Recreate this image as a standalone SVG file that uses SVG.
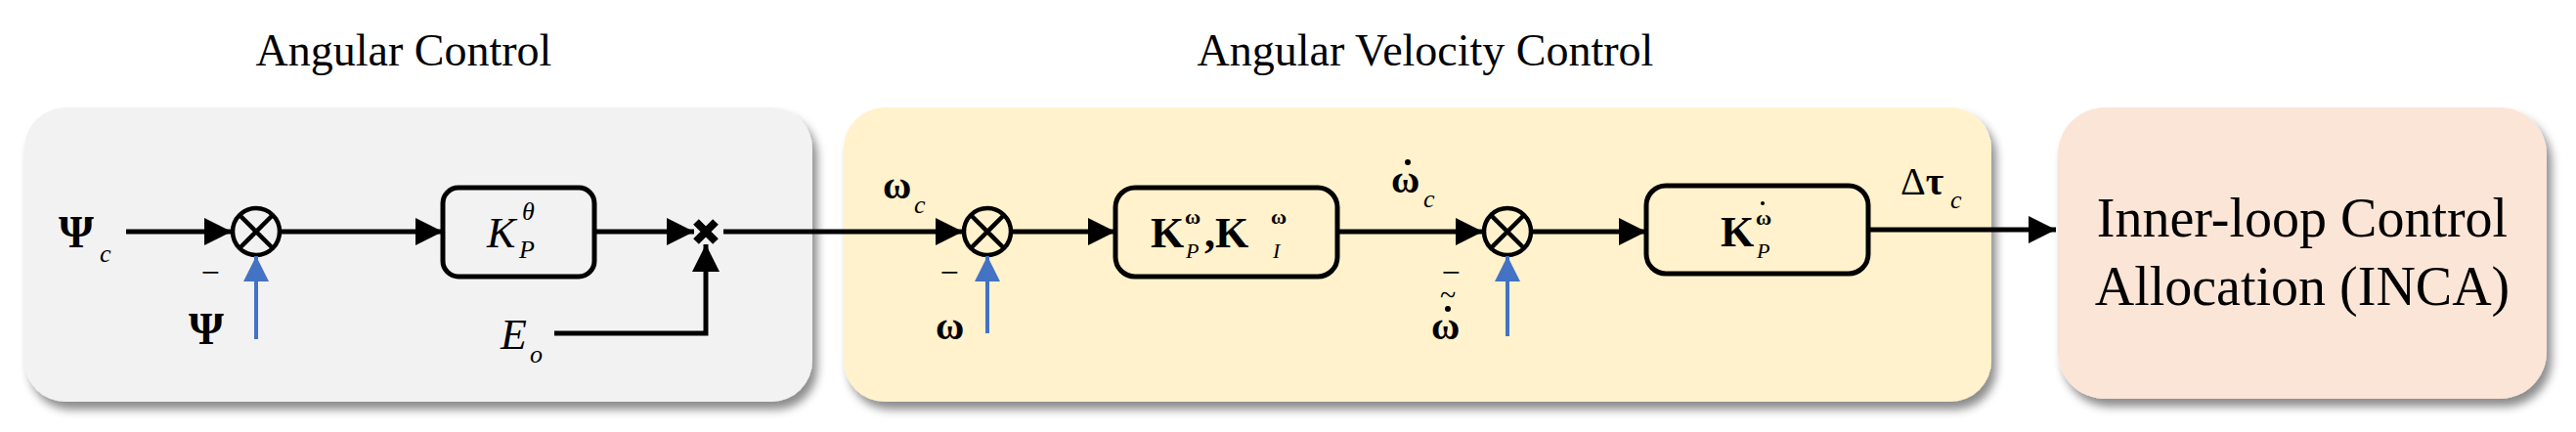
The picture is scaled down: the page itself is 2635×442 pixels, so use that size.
<svg xmlns="http://www.w3.org/2000/svg" width="2635" height="442" viewBox="0 0 2635 442" font-family="Liberation Serif, Times New Roman, serif">
<style>
text{font-family:Liberation Serif, Times New Roman, serif;fill:#000}
.title{font-size:46px;text-anchor:middle}
.b{font-weight:bold}
.i{font-style:italic}
.ln{stroke:#000;stroke-width:5;fill:none;marker-end:url(#ah)}
.bl{stroke:#4472c4;stroke-width:4;fill:none;marker-end:url(#ab)}
.box{fill:none;stroke:#000;stroke-width:5}
.sum{fill:none;stroke:#000;stroke-width:4.5}
</style>
<defs>
<filter id="sh" x="-5%" y="-5%" width="112%" height="120%"><feDropShadow dx="5" dy="8" stdDeviation="5" flood-color="#000" flood-opacity="0.45"/></filter>
<marker id="ah" markerWidth="28" markerHeight="28" refX="28" refY="14" orient="auto" markerUnits="userSpaceOnUse" viewBox="0 0 28 28"><path d="M0,0L28,14L0,28z" fill="#000"/></marker>
<marker id="ab" markerWidth="26" markerHeight="26" refX="26" refY="13" orient="auto" markerUnits="userSpaceOnUse" viewBox="0 0 26 26"><path d="M0,0L26,13L0,26z" fill="#4472c4"/></marker>
</defs>
<g id="panel-angular">
<rect x="25" y="110" width="806" height="301" rx="42" fill="#f2f2f2" filter="url(#sh)"/>
<text class="title" x="413" y="67">Angular Control</text>
</g>
<g id="panel-velocity">
<rect x="863" y="110" width="1174" height="301" rx="42" fill="#fff2cc" filter="url(#sh)"/>
<text class="title" x="1458" y="67">Angular Velocity Control</text>
</g>
<g id="panel-inca">
<rect x="2105" y="110" width="500" height="298" rx="48" fill="#fbe5d6" filter="url(#sh)"/>
<text x="2355" y="242" font-size="56" text-anchor="middle">Inner-loop Control</text>
<text x="2355" y="312" font-size="56" text-anchor="middle">Allocation (INCA)</text>
</g>
<g id="sum1">
<circle cx="262" cy="237" r="24" class="sum"/>
<path d="M245,220L279,254M279,220L245,254" class="sum"/>
</g>
<g id="kp-theta">
<rect x="453" y="192" width="155" height="91" rx="16" class="box"/>
<text x="498" y="253" font-size="44" class="i">K</text>
<text x="534" y="225" font-size="26" class="i">θ</text>
<text x="531" y="264" font-size="26" class="i">P</text>
</g>
<g id="mult">
<path d="M712,227L732,247M732,227L712,247" stroke="#000" stroke-width="8"/>
</g>
<g id="sum2">
<circle cx="1010" cy="237" r="24" class="sum"/>
<path d="M993,220L1027,254M1027,220L993,254" class="sum"/>
</g>
<g id="kp-ki">
<rect x="1141" y="192" width="227" height="91" rx="20" class="box"/>
<text x="1177" y="253" font-size="44" class="b">K</text>
<text x="1212" y="229" font-size="22" class="b">ω</text>
<text x="1213" y="264" font-size="22" class="i">P</text>
<text x="1232" y="253" font-size="44" class="b">,K</text>
<text x="1300" y="229" font-size="22" class="b">ω</text>
<text x="1302" y="264" font-size="22" class="i">I</text>
</g>
<g id="sum3">
<circle cx="1542" cy="237" r="24" class="sum"/>
<path d="M1525,220L1559,254M1559,220L1525,254" class="sum"/>
</g>
<g id="kp-omegadot">
<rect x="1684" y="190" width="227" height="90" rx="20" class="box"/>
<text x="1760" y="252" font-size="44" class="b">K</text>
<text x="1796" y="230" font-size="22" class="b">ω</text>
<circle cx="1803" cy="208" r="2" fill="#000"/>
<text x="1797" y="264" font-size="22" class="i">P</text>
</g>
<g id="labels">
<text x="60" y="253" font-size="46" class="b">Ψ</text>
<text x="102" y="268" font-size="26" class="i">c</text>
<text x="215" y="290" font-size="34" text-anchor="middle">−</text>
<text x="193" y="352" font-size="46" class="b">Ψ</text>
<text x="512" y="357" font-size="44" class="i">E</text>
<text x="542" y="371" font-size="26" class="i">o</text>
<text x="903" y="203" font-size="40" class="b">ω</text>
<text x="935" y="218" font-size="26" class="i">c</text>
<text x="971" y="290" font-size="34" text-anchor="middle">−</text>
<text x="957" y="347" font-size="40" class="b">ω</text>
<text x="1423" y="197" font-size="40" class="b">ω</text>
<circle cx="1440" cy="166" r="3" fill="#000"/>
<text x="1456" y="212" font-size="26" class="i">c</text>
<text x="1484" y="290" font-size="34" text-anchor="middle">−</text>
<text x="1464" y="347" font-size="40" class="b">ω</text>
<circle cx="1481" cy="316" r="3" fill="#000"/>
<text x="1481" y="312" font-size="30" text-anchor="middle">~</text>
<text x="1944" y="199" font-size="40">Δ<tspan class="b">τ</tspan></text>
<text x="1995" y="213" font-size="26" class="i">c</text>
</g>
<g id="connectors">
<path d="M129,237H237" class="ln"/>
<path d="M286,237H453" class="ln"/>
<path d="M608,237H710" class="ln"/>
<path d="M567,341H722V250" class="ln"/>
<path d="M740,237H985" class="ln"/>
<path d="M1034,237H1141" class="ln"/>
<path d="M1368,237H1517" class="ln"/>
<path d="M1566,237H1684" class="ln"/>
<path d="M1911,235H2103" class="ln"/>
<path d="M262,347V262" class="bl"/>
<path d="M1010,341V262" class="bl"/>
<path d="M1542,344V262" class="bl"/>
</g>
</svg>
